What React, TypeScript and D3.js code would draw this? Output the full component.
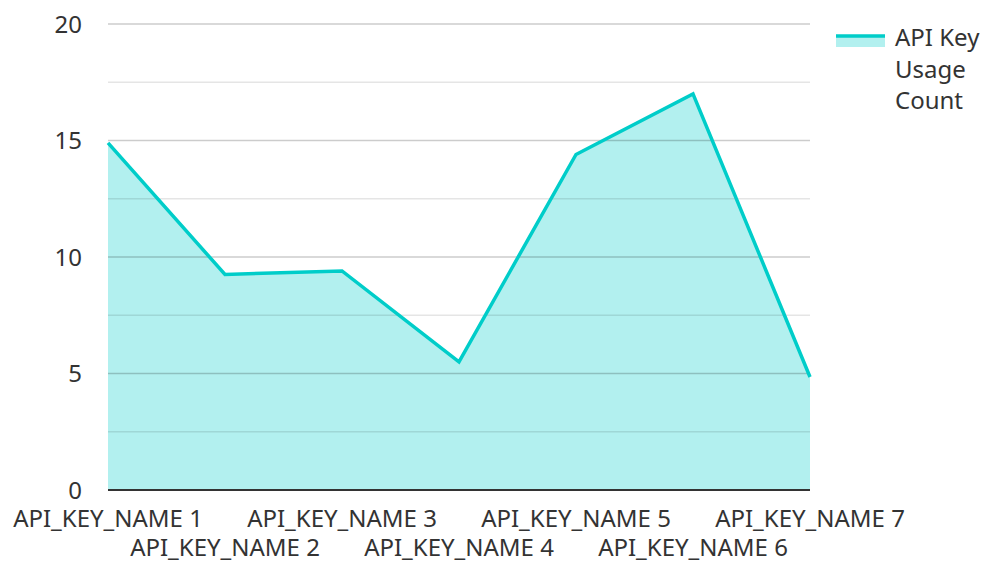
import React, { useEffect, useRef } from 'react';
import * as d3 from 'd3';

const categories = [
  'API_KEY_NAME 1',
  'API_KEY_NAME 2',
  'API_KEY_NAME 3',
  'API_KEY_NAME 4',
  'API_KEY_NAME 5',
  'API_KEY_NAME 6',
  'API_KEY_NAME 7',
];
const usageCounts = [14.9, 9.25, 9.4, 5.5, 14.4, 17.0, 4.85];
const majorTicks = [0, 5, 10, 15, 20];
const minorTicks = [2.5, 7.5, 12.5, 17.5];
const seriesName = ['API Key', 'Usage', 'Count'];

const width = 984;
const height = 563;
const margin = { top: 24, right: 174, bottom: 73, left: 108 };
const font = "'Noto Sans', 'Open Sans', sans-serif";
const lineColor = '#00cdc9';
const fillColor = '#b2f0ef';

export default function App() {
  const ref = useRef<SVGSVGElement>(null);

  useEffect(() => {
    const svg = d3.select(ref.current);
    svg.selectAll('*').remove();

    const x = d3
      .scalePoint()
      .domain(categories)
      .range([margin.left, width - margin.right]);
    const y = d3
      .scaleLinear()
      .domain([0, 20])
      .range([height - margin.bottom, margin.top]);

    const data = categories.map((c, i) => ({ c, v: usageCounts[i] }));

    // area first, grid on top of it
    svg
      .append('path')
      .datum(data)
      .attr('fill', fillColor)
      .attr(
        'd',
        d3
          .area<any>()
          .x((d) => x(d.c)!)
          .y0(y(0))
          .y1((d) => y(d.v))
      );

    svg
      .append('g')
      .selectAll('line')
      .data(minorTicks)
      .enter()
      .append('line')
      .attr('x1', margin.left)
      .attr('x2', width - margin.right)
      .attr('y1', (d) => y(d))
      .attr('y2', (d) => y(d))
      .attr('stroke', 'rgba(0,0,0,0.1)')
      .attr('stroke-width', 1.5);

    svg
      .append('g')
      .selectAll('line')
      .data(majorTicks.filter((d) => d > 0))
      .enter()
      .append('line')
      .attr('x1', margin.left)
      .attr('x2', width - margin.right)
      .attr('y1', (d) => y(d))
      .attr('y2', (d) => y(d))
      .attr('stroke', 'rgba(0,0,0,0.2)')
      .attr('stroke-width', 1.5);

    svg
      .append('path')
      .datum(data)
      .attr('fill', 'none')
      .attr('stroke', lineColor)
      .attr('stroke-width', 3.5)
      .attr('stroke-linejoin', 'miter')
      .attr(
        'd',
        d3
          .line<any>()
          .x((d) => x(d.c)!)
          .y((d) => y(d.v))
      );

    // baseline
    svg
      .append('line')
      .attr('x1', margin.left)
      .attr('x2', width - margin.right)
      .attr('y1', y(0))
      .attr('y2', y(0))
      .attr('stroke', '#333')
      .attr('stroke-width', 2);

    svg
      .append('g')
      .selectAll('text')
      .data(majorTicks)
      .enter()
      .append('text')
      .attr('x', 82)
      .attr('y', (d) => y(d) + 8.5)
      .attr('text-anchor', 'end')
      .attr('font-family', font)
      .attr('font-size', 24)
      .attr('fill', '#333')
      .text((d) => d);

    svg
      .append('g')
      .selectAll('text')
      .data(categories)
      .enter()
      .append('text')
      .attr('x', (d) => x(d)!)
      .attr('y', (d, i) => (i % 2 === 0 ? 527 : 556))
      .attr('text-anchor', 'middle')
      .attr('font-family', font)
      .attr('font-size', 24)
      .attr('fill', '#333')
      .text((d) => d);

    // legend
    const lg = svg.append('g');
    lg.append('rect')
      .attr('x', 836)
      .attr('y', 35)
      .attr('width', 49)
      .attr('height', 12)
      .attr('fill', fillColor);
    lg.append('line')
      .attr('x1', 836)
      .attr('x2', 885)
      .attr('y1', 36)
      .attr('y2', 36)
      .attr('stroke', lineColor)
      .attr('stroke-width', 3.5);
    lg.selectAll('text')
      .data(seriesName)
      .enter()
      .append('text')
      .attr('x', 895)
      .attr('y', (d, i) => 46 + i * 31.5)
      .attr('font-family', font)
      .attr('font-size', 24)
      .attr('fill', '#333')
      .text((d) => d);
  }, []);

  return (
    <svg
      ref={ref}
      width={width}
      height={height}
      style={{ position: 'absolute', left: 0, top: 0 }}
    />
  );
}
